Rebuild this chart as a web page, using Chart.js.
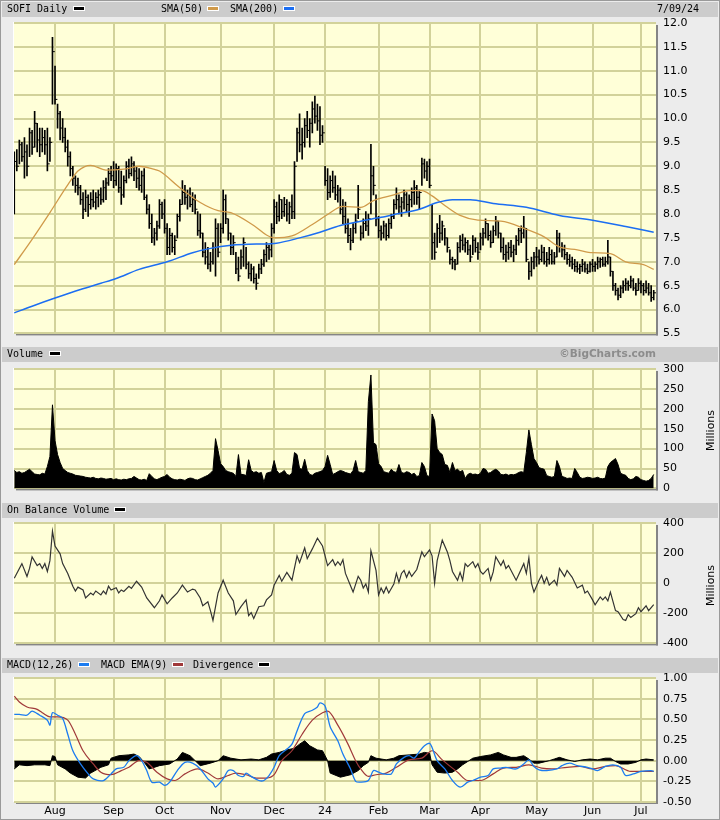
<!DOCTYPE html>
<html>
<head>
<meta charset="utf-8">
<script src="https://cdn.jsdelivr.net/npm/chart.js@4.4.1/dist/chart.umd.min.js"></script>
<style>
  body { margin: 0; background: #fff; }
  #wrap { position: relative; width: 720px; height: 820px; background: #ececec; overflow: hidden;
          font-family: 'DejaVu Sans Mono', monospace; }
  .band { position: absolute; left: 2px; width: 716px; height: 15px; background: #cccccc; }
  .lg { position: absolute; font-size: 10px; line-height: 15px; color: #000; white-space: nowrap; }
  .sw { position: absolute; width: 10px; height: 3px; border: 1px solid #fff; }
  canvas { position: absolute; left: 0; }
  .mil { position: absolute; width: 60px; text-align: center; font: 11px 'DejaVu Sans', sans-serif;
         transform: rotate(-90deg); color: #000; }
  #frame { position: absolute; left: 0; top: 0; width: 718px; height: 818px; border: 1px solid #9a9a9a; pointer-events: none; }
</style>
</head>
<body>
<div id="wrap">
  <div class="band" style="top:2px"></div>
  <div class="band" style="top:347px"></div>
  <div class="band" style="top:503px"></div>
  <div class="band" style="top:658px"></div>

  <canvas id="price" width="720" height="347" style="top:0"></canvas>
  <canvas id="vol" width="720" height="155" style="top:347px"></canvas>
  <canvas id="obv" width="720" height="155" style="top:502px"></canvas>
  <canvas id="macd" width="720" height="163" style="top:657px"></canvas>

  <!-- panel headers -->
  <div class="lg" style="left:7px;top:1px">SOFI Daily</div><div class="sw" style="left:73px;top:6px;background:#000"></div>
  <div class="lg" style="left:161px;top:1px">SMA(50)</div><div class="sw" style="left:207px;top:6px;background:#d09a4a"></div>
  <div class="lg" style="left:230px;top:1px">SMA(200)</div><div class="sw" style="left:283px;top:6px;background:#1c6ef2"></div>
  <div class="lg" style="left:657px;top:1px">7/09/24</div>

  <div class="lg" style="left:7px;top:346px">Volume</div><div class="sw" style="left:49px;top:351px;background:#000"></div>
  <div class="lg" style="right:64px;top:346px;font:bold 10.5px 'DejaVu Sans',sans-serif;line-height:15px;color:#8c8c8c">©BigCharts.com</div>

  <div class="lg" style="left:7px;top:502px">On Balance Volume</div><div class="sw" style="left:114px;top:507px;background:#000"></div>

  <div class="lg" style="left:7px;top:657px">MACD(12,26)</div><div class="sw" style="left:78px;top:662px;background:#1c7cf0"></div>
  <div class="lg" style="left:101px;top:657px">MACD EMA(9)</div><div class="sw" style="left:172px;top:662px;background:#a0393a"></div>
  <div class="lg" style="left:193px;top:657px">Divergence</div><div class="sw" style="left:258px;top:662px;background:#000"></div>

  <div class="mil" style="left:680px;top:424px">Millions</div>
  <div class="mil" style="left:680px;top:579px">Millions</div>
  <div id="frame"></div>
</div>

<script>
// trading days from 7/10/23 to 7/09/24, index 0..251
const monthDay = [16, 39, 59, 81, 102, 122, 143, 163, 183, 205, 227, 246];
const monthLabels = ['Aug', 'Sep', 'Oct', 'Nov', 'Dec', '24', 'Feb', 'Mar', 'Apr', 'May', 'Jun', 'Jul'];

// daily bars (Jul .. Jul)
const highs = [
  9.30,9.35,9.55,9.50,9.60,9.45,9.80,9.75,10.15,9.90,9.80,9.80,9.75,9.80,9.60,11.70,
  11.10,10.30,10.15,10.00,9.80,9.55,9.30,9.00,8.80,8.75,8.60,8.45,8.50,8.40,8.45,8.50,8.45,8.50,8.55,8.70,8.75,8.95,9.00,
  9.10,9.05,9.00,8.90,8.80,9.10,9.15,9.20,9.10,9.00,8.95,8.90,8.95,8.40,8.20,8.00,7.70,7.85,8.30,8.25,
  8.30,7.80,7.70,7.60,7.55,8.00,8.30,8.70,8.60,8.50,8.55,8.45,8.40,8.05,8.00,7.60,7.40,7.30,7.20,7.40,7.90,7.80,
  7.80,8.50,8.40,7.90,7.60,7.55,7.20,7.10,7.25,7.50,7.30,7.00,6.95,6.90,6.75,6.95,7.05,7.25,7.40,7.35,7.80,
  8.30,8.25,8.40,8.30,8.35,8.30,8.25,8.40,9.10,9.80,10.10,9.80,10.00,10.15,10.00,10.35,10.47,10.30,10.25,9.85,
  9.00,8.95,8.80,8.90,8.80,8.60,8.55,8.30,8.25,7.90,7.70,7.80,8.00,8.60,7.75,7.90,8.05,8.00,9.46,9.00,8.40,
  7.95,7.75,7.85,7.80,7.90,8.00,8.30,8.55,8.40,8.35,8.50,8.45,8.40,8.55,8.70,8.60,8.50,9.17,9.15,9.10,
  9.15,8.20,7.60,7.80,7.97,7.85,7.70,7.50,7.25,7.10,7.05,7.40,7.55,7.58,7.50,7.45,7.35,7.55,7.50,7.40,
  7.60,7.70,7.90,7.80,7.65,7.75,7.95,7.85,7.60,7.50,7.35,7.40,7.45,7.35,7.55,7.70,7.75,7.95,7.70,7.00,7.10,7.20,
  7.30,7.25,7.35,7.30,7.20,7.30,7.25,7.20,7.66,7.60,7.40,7.35,7.20,7.15,7.10,7.05,7.00,6.95,7.05,7.00,6.95,7.00,
  7.05,7.00,7.10,7.08,7.10,7.10,7.45,7.10,6.80,6.55,6.45,6.50,6.60,6.65,6.60,6.70,6.65,6.55,6.65,
  6.60,6.55,6.60,6.55,6.50,6.40
];
const lows = [
  8.00,8.90,9.05,9.10,8.75,8.80,9.20,9.25,9.40,9.30,9.20,9.30,9.25,8.90,9.10,10.30,
  10.30,9.80,9.55,9.50,9.30,9.00,8.80,8.60,8.45,8.40,8.20,7.90,8.05,7.95,8.10,8.15,8.10,8.15,8.20,8.25,8.30,8.60,8.70,
  8.55,8.60,8.45,8.20,8.35,8.65,8.75,8.80,8.70,8.55,8.50,8.45,8.30,8.00,7.70,7.40,7.35,7.45,7.70,7.90,
  7.60,7.15,7.15,7.20,7.15,7.50,7.85,8.20,8.20,8.10,8.15,8.05,8.00,7.55,7.50,7.10,6.95,6.85,6.80,6.95,6.70,7.10,
  7.40,7.60,7.80,7.45,7.15,7.15,6.75,6.60,6.85,6.90,6.85,6.65,6.60,6.55,6.42,6.65,6.75,6.90,7.00,7.05,7.10,
  7.60,7.80,7.85,7.90,7.95,7.85,7.80,7.90,7.90,9.10,9.30,9.15,9.40,9.60,9.40,9.70,9.90,9.75,9.45,9.50,
  8.60,8.30,8.35,8.45,8.30,8.25,8.00,7.80,7.60,7.40,7.25,7.40,7.60,7.90,7.45,7.50,7.65,7.55,8.00,8.40,7.75,
  7.50,7.45,7.50,7.45,7.50,7.70,7.90,8.10,8.00,7.95,8.10,8.05,7.95,8.15,8.20,8.20,8.10,8.60,8.75,8.70,
  8.55,7.05,7.05,7.30,7.40,7.45,7.35,7.20,6.95,6.85,6.83,6.95,7.20,7.25,7.20,7.15,7.00,7.15,7.20,7.05,
  7.25,7.35,7.50,7.45,7.30,7.40,7.55,7.50,7.20,7.05,7.00,7.05,7.10,7.00,7.15,7.35,7.40,7.50,7.00,6.63,6.70,6.85,
  6.90,6.95,7.00,6.95,6.90,6.95,6.95,6.95,7.10,7.20,7.10,7.05,6.95,6.90,6.85,6.80,6.78,6.75,6.80,6.78,6.75,6.78,
  6.80,6.80,6.85,6.88,6.90,6.90,6.95,6.70,6.40,6.30,6.20,6.25,6.35,6.40,6.40,6.45,6.40,6.30,6.40,
  6.35,6.30,6.35,6.30,6.17,6.20
];
const closes = [
  9.10,9.00,9.45,9.20,9.30,9.00,9.70,9.40,9.90,9.55,9.45,9.60,9.45,9.05,9.50,11.40,
  10.40,10.10,9.80,9.60,9.40,9.20,8.95,8.75,8.60,8.55,8.30,8.10,8.35,8.20,8.30,8.25,8.35,8.40,8.30,8.55,8.65,8.85,8.80,
  8.70,8.95,8.55,8.40,8.70,9.00,8.85,9.05,8.90,8.75,8.60,8.80,8.35,8.10,7.80,7.50,7.60,7.75,8.20,8.00,
  7.70,7.30,7.55,7.30,7.45,7.95,8.20,8.45,8.35,8.40,8.20,8.30,8.10,7.65,7.60,7.20,7.10,6.95,7.00,7.30,7.70,7.20,
  7.70,8.30,7.90,7.60,7.30,7.40,6.85,6.70,7.10,7.40,6.95,6.75,6.85,6.65,6.55,6.85,6.95,7.15,7.30,7.25,7.70,
  8.15,7.95,8.30,8.05,8.20,8.00,8.15,8.05,9.00,9.70,9.45,9.50,9.85,9.75,9.90,10.20,10.05,9.95,9.65,9.70,
  8.70,8.45,8.70,8.55,8.40,8.50,8.10,7.95,7.70,7.55,7.45,7.70,7.85,8.10,7.60,7.80,7.75,7.90,8.80,8.60,7.90,
  7.65,7.60,7.75,7.55,7.80,7.95,8.20,8.30,8.15,8.25,8.40,8.20,8.30,8.45,8.55,8.35,8.45,9.05,8.90,9.00,
  8.60,7.40,7.20,7.70,7.60,7.75,7.50,7.30,7.05,7.00,6.95,7.30,7.45,7.35,7.40,7.25,7.10,7.45,7.30,7.20,
  7.50,7.60,7.80,7.55,7.40,7.65,7.85,7.60,7.30,7.15,7.20,7.30,7.20,7.25,7.45,7.65,7.60,7.70,7.05,6.80,7.00,7.10,
  7.10,7.05,7.20,7.00,7.05,7.15,7.00,7.10,7.50,7.30,7.25,7.15,7.05,7.00,6.95,6.90,6.85,6.90,6.95,6.85,6.80,6.95,
  6.90,6.95,7.00,7.05,6.95,7.00,7.10,6.80,6.50,6.40,6.30,6.45,6.50,6.55,6.50,6.60,6.45,6.40,6.55,
  6.50,6.40,6.45,6.35,6.25,6.35
];

// moving averages, sampled
const sma50Day = [0,7,14,21,25,30,36,43,49,54,57,65,73,80,85,94,99,102,109,117,123,129,136,141,149,155,160,164,170,175,182,191,201,208,214,221,227,234,240,247,251];
const sma50 = [6.94,7.47,8.03,8.61,8.90,9.02,8.92,8.94,9.00,8.95,8.90,8.55,8.24,8.07,8.03,7.76,7.56,7.50,7.54,7.78,7.99,8.16,8.14,8.28,8.40,8.49,8.49,8.38,8.14,7.97,7.87,7.85,7.68,7.52,7.31,7.25,7.19,7.17,7.00,6.94,6.84];
const sma200Day = [0,7,16,26,34,40,49,60,70,76,86,95,103,112,120,128,136,144,151,159,166,172,179,188,201,214,227,240,251];
const sma200 = [5.93,6.07,6.24,6.42,6.55,6.65,6.84,7.00,7.19,7.27,7.35,7.37,7.39,7.50,7.62,7.76,7.85,7.93,8.01,8.10,8.24,8.30,8.30,8.22,8.14,7.97,7.87,7.74,7.62];

// volume, millions
const volume = [
  45,40,42,38,40,44,48,42,36,35,34,38,36,55,80,210,
  120,85,65,50,45,40,38,36,33,32,31,30,28,27,26,28,25,24,26,25,23,24,25,
  22,24,22,21,23,22,24,25,30,26,22,21,23,20,37,30,24,22,25,28,
  30,35,28,24,22,21,23,22,20,24,26,25,22,21,24,27,30,33,38,45,125,95,
  62,55,45,42,40,38,30,85,35,35,32,72,45,40,42,38,40,15,38,40,42,
  70,45,37,40,45,35,33,38,90,85,50,48,73,45,35,33,38,40,42,45,
  55,83,60,35,38,42,45,43,40,38,36,45,70,42,40,38,45,218,285,115,110,
  62,55,42,40,38,48,42,40,60,40,38,42,40,35,38,30,32,65,55,32,
  30,187,170,100,90,85,60,58,40,65,45,48,42,45,25,35,38,35,36,34,
  38,50,48,38,40,45,48,44,35,34,36,33,35,34,36,40,42,40,90,147,110,75,
  65,52,50,48,32,30,28,30,70,55,30,28,25,26,25,50,40,28,25,26,28,27,
  25,26,28,25,24,26,55,65,70,75,60,38,35,33,25,22,24,30,28,
  22,20,18,20,25,35
];

// on balance volume, millions
const obvDay = [
  0,3,5,6,7,9,10,11,12,13,14,15,16,18,19,21,23,24,25,27,28,30,31,32,34,35,36,37,38,40,41,42,43,45,46,48,50,52,55,57,
  58,60,62,64,66,68,70,71,73,74,76,77,78,80,82,84,86,87,89,91,92,93,94,96,98,99,101,102,104,105,107,109,111,112,114,115,
  117,119,121,123,125,126,127,128,129,130,133,135,
  136,137,138,139,140,142,143,144,145,146,147,149,150,151,152,153,154,155,156,158,160,161,163,164,165,166,168,170,171,172,
  174,175,176,177,178,180,181,182,183,184,186,187,188,189,191,192,193,194,197,200,201,202,203,204,206,207,208,209,210,212,
  213,214,216,217,219,221,223,224,225,227,228,230,231,232,233,234,236,237,239,240,241,242,244,245,246,248,249,251
];
const obv = [
  33,130,45,98,175,117,130,98,130,78,150,345,247,195,130,65,-20,-52,-26,-45,-98,-65,-78,-52,-78,-52,-72,-20,-45,-30,-65,-45,-55,-20,-35,13,-26,-98,-163,-117,
  -78,-137,-98,-65,-13,-59,-39,-45,-98,-150,-124,-182,-247,-65,20,-65,-117,-208,-156,-111,-215,-195,-234,-156,-150,-111,-78,-13,52,13,72,20,182,137,234,163,
  228,299,247,117,156,117,143,120,156,65,-59,45,
  20,-32,-5,-59,215,85,-78,-32,-65,-25,-65,-6,65,6,65,85,39,78,45,91,208,176,221,182,0,150,286,208,150,78,
  20,72,20,130,110,143,104,130,78,60,98,20,75,176,117,150,98,117,20,130,65,169,0,-59,20,52,0,39,-13,20,
  -13,98,45,85,39,-32,-13,-65,-52,-111,-143,-91,-111,-91,-117,-59,-182,-189,-241,-247,-208,-228,-202,-163,-189,-150,-182,-143
];

// MACD(12,26), EMA(9) and divergence
const macdDay = [0,2,5,7,10,13,14,15,17,19,21,23,26,29,31,35,38,40,43,45,48,50,52,54,57,59,61,64,67,70,73,76,78,79,82,84,86,88,90,91,
  93,96,98,100,102,104,107,109,111,114,117,119,120,122,124,127,129,132,134,136,139,141,143,145,148,150,153,155,157,159,
  161,163,164,166,169,172,175,178,180,183,186,188,191,193,197,200,202,204,206,209,213,215,218,221,225,227,229,232,235,238,240,243,246,250,251];
const macd = [0.56,0.56,0.55,0.60,0.55,0.49,0.43,0.58,0.55,0.51,0.32,0.12,-0.04,-0.16,-0.22,-0.24,-0.16,-0.10,-0.08,0.0,0.06,0.0,-0.12,-0.26,-0.26,-0.30,-0.26,-0.12,-0.02,-0.03,-0.10,-0.22,-0.27,-0.32,-0.22,-0.12,-0.12,-0.18,-0.19,-0.15,
  -0.19,-0.24,-0.24,-0.18,-0.08,0.06,0.14,0.20,0.36,0.57,0.61,0.65,0.70,0.66,0.41,0.24,0.08,-0.10,-0.25,-0.26,-0.24,-0.12,-0.14,-0.16,-0.16,-0.04,0.04,0.06,0.03,0.11,
  0.18,0.21,0.16,0.0,-0.10,-0.24,-0.32,-0.26,-0.24,-0.20,-0.18,-0.10,-0.09,-0.08,-0.10,-0.04,0.01,-0.07,-0.11,-0.12,-0.10,-0.06,-0.03,-0.06,-0.08,-0.10,-0.12,-0.07,-0.05,-0.08,-0.18,-0.16,-0.13,-0.12,-0.13];
const signalDay = [0,2,5,9,11,14,17,21,24,27,31,34,38,42,45,49,52,56,60,63,67,72,76,80,84,87,91,95,99,102,105,109,113,117,121,123,127,131,134,136,
  139,142,146,150,155,160,164,168,174,178,183,188,192,197,202,207,211,217,222,227,232,236,242,247,251];
const signal = [0.78,0.71,0.65,0.62,0.58,0.53,0.53,0.49,0.32,0.12,-0.04,-0.14,-0.17,-0.12,-0.08,0.0,-0.02,-0.14,-0.22,-0.24,-0.16,-0.10,-0.15,-0.22,-0.18,-0.15,-0.17,-0.21,-0.21,-0.17,0.0,0.12,0.32,0.49,0.58,0.60,0.43,0.20,0.0,-0.10,
  -0.19,-0.17,-0.15,-0.08,0.01,0.03,0.12,0.01,-0.14,-0.24,-0.24,-0.16,-0.09,-0.08,-0.05,-0.09,-0.10,-0.08,-0.07,-0.10,-0.07,-0.06,-0.13,-0.13,-0.13];
const divDay = [0,2,5,8,12,14,15,16,17,20,22,25,28,30,34,37,38,41,45,47,49,51,53,57,61,64,66,69,71,73,77,80,82,85,89,93,96,99,101,104,
  107,110,112,114,116,119,121,123,124,128,132,135,137,139,140,142,146,149,151,155,159,161,163,164,166,169,172,174,176,178,
  180,183,187,190,192,195,197,200,202,204,206,210,212,214,217,220,223,226,229,232,234,236,238,241,244,246,248,251];
const divergence = [-0.10,-0.05,-0.06,-0.05,-0.05,-0.06,0.06,0.05,-0.05,-0.10,-0.15,-0.20,-0.21,-0.15,-0.08,-0.05,0.03,0.06,0.07,0.08,
  0.05,-0.02,-0.10,-0.06,-0.04,0.02,0.10,0.06,0.0,-0.06,-0.03,0.0,0.06,0.03,0.01,0.02,0.01,0.04,0.08,0.10,
  0.13,0.15,0.20,0.24,0.18,0.13,0.12,0.0,-0.15,-0.20,-0.17,-0.12,-0.06,-0.02,0.06,0.03,0.01,0.03,0.06,0.07,
  0.08,0.10,0.09,-0.05,-0.14,-0.15,-0.14,-0.10,-0.05,-0.01,0.03,0.05,0.07,0.10,0.07,0.04,0.04,0.06,0.02,-0.03,
  -0.03,0.0,0.02,0.04,0.01,-0.01,0.01,0.02,0.01,0.03,0.03,-0.01,-0.04,-0.04,-0.02,0.01,0.02,0.01];

const gridCol = '#d2d29a';
const tickFont = { family: "'DejaVu Sans', sans-serif", size: 11 };
const pts = (days, vals) => days.map((d, k) => ({ x: d, y: vals[k] }));

// pale yellow plot area with a little shadow, like the original
const panelBg = {
  id: 'panelBg',
  beforeDraw(chart) {
    const a = chart.chartArea, c = chart.ctx;
    c.save();
    c.fillStyle = '#ffffd8';
    c.fillRect(a.left, a.top, a.right - a.left, a.bottom - a.top);
    c.fillStyle = '#858585';
    c.fillRect(a.left + 2, a.bottom, a.right - a.left, 2);
    c.fillRect(a.right, a.top + 2, 2, a.bottom - a.top);
    c.fillStyle = '#ffffff';
    c.fillRect(a.left - 1, a.top - 1, a.right - a.left + 1, 1);
    c.fillRect(a.left - 1, a.top - 1, 1, a.bottom - a.top + 1);
    c.restore();
  }
};

function xAxis(showLabels) {
  return {
    type: 'linear', min: -0.1, max: 251.9, offset: false,
    afterBuildTicks: s => { s.ticks = monthDay.map(v => ({ value: v })); },
    afterFit: s => { s.height = showLabels ? 16 : 0; },
    grid: { color: gridCol, lineWidth: 2, drawTicks: false, offset: false },
    border: { display: false },
    ticks: {
      display: showLabels, padding: 3, color: '#000', font: tickFont, maxRotation: 0, autoSkip: false,
      callback: v => monthLabels[monthDay.indexOf(v)]
    }
  };
}

function yAxis(min, max, step, fmt) {
  return {
    position: 'right', min: min, max: max,
    afterFit: s => { s.width = 64; },
    grid: { color: gridCol, lineWidth: 2, drawTicks: false },
    border: { display: false },
    ticks: { stepSize: step, padding: 7, color: '#000', font: tickFont, callback: fmt }
  };
}

function makeChart(id, datasets, yScale, pad, showX) {
  return new Chart(document.getElementById(id), {
    type: 'line',
    data: { datasets: datasets },
    options: {
      responsive: false,
      animation: false,
      events: [],
      layout: { padding: pad },
      plugins: { legend: { display: false }, tooltip: { enabled: false } },
      scales: { x: xAxis(showX), y: yScale }
    },
    plugins: [panelBg]
  });
}

// price
makeChart('price', [
  { data: pts(sma200Day, sma200), borderColor: '#1c6ef2', borderWidth: 1.5, pointRadius: 0, cubicInterpolationMode: 'monotone' },
  { data: pts(sma50Day, sma50), borderColor: '#d09a4a', borderWidth: 1.3, pointRadius: 0, cubicInterpolationMode: 'monotone' },
  { data: closes.map((c, i) => ({ x: i + 0.45, y: c })), showLine: false, pointStyle: 'line',
    pointRadius: 1.2, pointBorderWidth: 1, pointBorderColor: '#000' },
  { type: 'bar', data: highs.map((h, i) => ({ x: i, y: [lows[i], h] })), backgroundColor: '#000',
    barThickness: 1, grouped: false }
], yAxis(5.5, 12, 0.5, v => v.toFixed(1)), { left: 14, top: 23, right: 0, bottom: 10 }, false);

// volume, drawn as a filled mountain
makeChart('vol', [
  { data: volume.map((v, i) => ({ x: i, y: v })), borderColor: '#000', borderWidth: 1, backgroundColor: '#000',
    fill: 'origin', pointRadius: 0, tension: 0 }
], yAxis(0, 300, 50, v => v), { left: 14, top: 22, right: 0, bottom: 10 }, false);

// on balance volume
makeChart('obv', [
  { data: pts(obvDay, obv), borderColor: '#333', borderWidth: 1.2, pointRadius: 0, tension: 0 }
], yAxis(-400, 400, 200, v => v), { left: 14, top: 21, right: 0, bottom: 10 }, false);

// MACD
makeChart('macd', [
  { data: pts(macdDay, macd), borderColor: '#1c7cf0', borderWidth: 1.3, pointRadius: 0, tension: 0.3 },
  { data: pts(signalDay, signal), borderColor: '#a0393a', borderWidth: 1.2, pointRadius: 0, cubicInterpolationMode: 'monotone' },
  { data: pts(divDay, divergence), borderColor: '#000', borderWidth: 1, backgroundColor: '#000',
    fill: 'origin', pointRadius: 0, tension: 0 }
], yAxis(-0.5, 1, 0.25, v => v.toFixed(2)), { left: 14, top: 21, right: 0, bottom: 2 }, true);
</script>
</body>
</html>
